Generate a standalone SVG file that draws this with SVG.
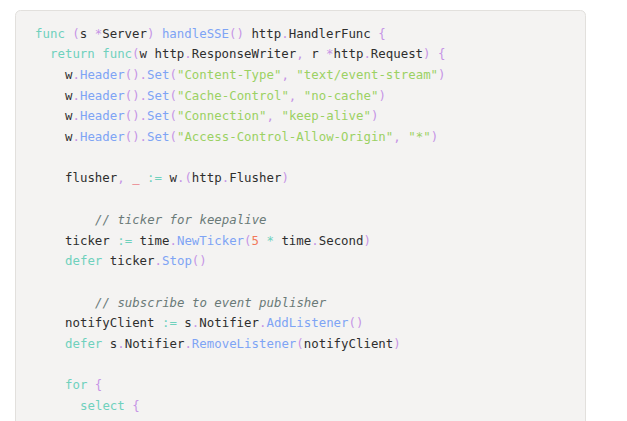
<svg xmlns="http://www.w3.org/2000/svg" width="627" height="421" viewBox="0 0 627 421">
<style>
text{font-family:"DejaVu Sans Mono","Liberation Mono",monospace;font-size:12.4px;fill:#2e2e2e;white-space:pre}
.k{fill:#6fd1bd}.f{fill:#7ea4f5}.s{fill:#9bd163}.p{fill:#c695e6}.n{fill:#f2795c}.r{fill:#e8505b}.c{fill:#6a7a78;font-style:italic}
</style>
<rect width="627" height="421" fill="#fff"/>
<g id="code-block">
<rect x="15.5" y="10.5" width="570" height="430" rx="5" fill="#f4f3f2" stroke="#e2e0dd"/>
<text xml:space="preserve">
<tspan x="35" y="37.5"><tspan class="k">func</tspan> <tspan class="p">(</tspan>s <tspan class="p">*</tspan>Server<tspan class="p">)</tspan> <tspan class="f">handleSSE</tspan><tspan class="p">()</tspan> http<tspan class="p">.</tspan>HandlerFunc <tspan class="p">{</tspan></tspan>
<tspan x="50" y="58.2"><tspan class="k">return</tspan> <tspan class="k">func</tspan><tspan class="p">(</tspan>w http<tspan class="p">.</tspan>ResponseWriter<tspan class="p">,</tspan> r <tspan class="p">*</tspan>http<tspan class="p">.</tspan>Request<tspan class="p">)</tspan> <tspan class="p">{</tspan></tspan>
<tspan x="65" y="78.9">w<tspan class="p">.</tspan><tspan class="f">Header</tspan><tspan class="p">().</tspan><tspan class="f">Set</tspan><tspan class="p">(</tspan><tspan class="s">"Content-Type"</tspan><tspan class="p">,</tspan> <tspan class="s">"text/event-stream"</tspan><tspan class="p">)</tspan></tspan>
<tspan x="65" y="99.6">w<tspan class="p">.</tspan><tspan class="f">Header</tspan><tspan class="p">().</tspan><tspan class="f">Set</tspan><tspan class="p">(</tspan><tspan class="s">"Cache-Control"</tspan><tspan class="p">,</tspan> <tspan class="s">"no-cache"</tspan><tspan class="p">)</tspan></tspan>
<tspan x="65" y="120.3">w<tspan class="p">.</tspan><tspan class="f">Header</tspan><tspan class="p">().</tspan><tspan class="f">Set</tspan><tspan class="p">(</tspan><tspan class="s">"Connection"</tspan><tspan class="p">,</tspan> <tspan class="s">"keep-alive"</tspan><tspan class="p">)</tspan></tspan>
<tspan x="65" y="141">w<tspan class="p">.</tspan><tspan class="f">Header</tspan><tspan class="p">().</tspan><tspan class="f">Set</tspan><tspan class="p">(</tspan><tspan class="s">"Access-Control-Allow-Origin"</tspan><tspan class="p">,</tspan> <tspan class="s">"*"</tspan><tspan class="p">)</tspan></tspan>
<tspan x="65" y="182.4">flusher<tspan class="p">,</tspan> <tspan class="r">_</tspan> <tspan class="k">:=</tspan> w<tspan class="p">.(</tspan>http<tspan class="p">.</tspan>Flusher<tspan class="p">)</tspan></tspan>
<tspan x="95" y="223.8" class="c">// ticker for keepalive</tspan>
<tspan x="65" y="244.5">ticker <tspan class="k">:=</tspan> time<tspan class="p">.</tspan><tspan class="f">NewTicker</tspan><tspan class="p">(</tspan><tspan class="n">5</tspan> <tspan class="k">*</tspan> time<tspan class="p">.</tspan>Second<tspan class="p">)</tspan></tspan>
<tspan x="65" y="265.2"><tspan class="k">defer</tspan> ticker<tspan class="p">.</tspan><tspan class="f">Stop</tspan><tspan class="p">()</tspan></tspan>
<tspan x="95" y="306.6" class="c">// subscribe to event publisher</tspan>
<tspan x="65" y="327.3">notifyClient <tspan class="k">:=</tspan> s<tspan class="p">.</tspan>Notifier<tspan class="p">.</tspan><tspan class="f">AddListener</tspan><tspan class="p">()</tspan></tspan>
<tspan x="65" y="348"><tspan class="k">defer</tspan> s<tspan class="p">.</tspan>Notifier<tspan class="p">.</tspan><tspan class="f">RemoveListener</tspan><tspan class="p">(</tspan>notifyClient<tspan class="p">)</tspan></tspan>
<tspan x="65" y="389.4"><tspan class="k">for</tspan> <tspan class="p">{</tspan></tspan>
<tspan x="80" y="410.1"><tspan class="k">select</tspan> <tspan class="p">{</tspan></tspan>
</text>
</g>
</svg>
